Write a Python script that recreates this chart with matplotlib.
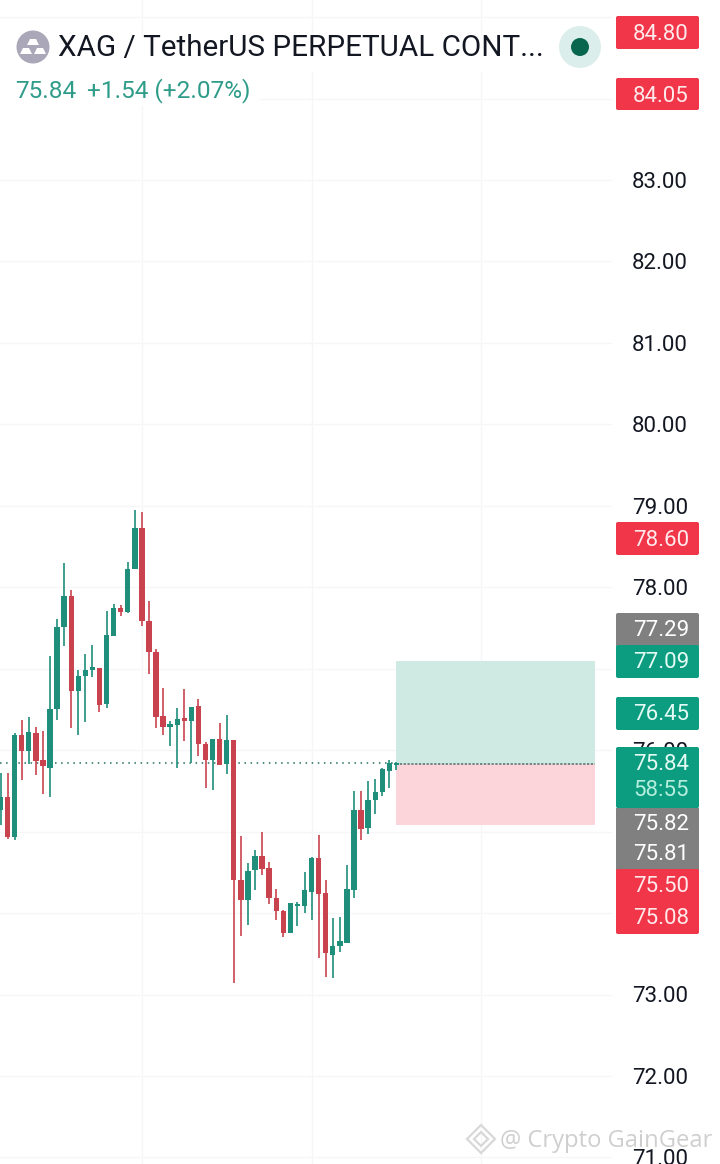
import matplotlib
matplotlib.use("Agg")
import matplotlib.pyplot as plt
from matplotlib.patches import FancyBboxPatch, Circle, Polygon, Rectangle

plt.rcParams['font.family'] = ['Roboto', 'DejaVu Sans']

# ---- data: one entry per candle, prices ----
highs = [75.72,75.72,76.21,76.37,76.41,76.28,76.24,77.15,77.61,78.30,77.97,76.98,77.18,77.29,77.01,77.71,77.79,77.78,78.31,78.95,
         78.93,77.83,77.24,76.76,76.36,76.52,76.75,76.53,76.63,76.10,76.14,76.33,76.43,76.13,74.94,74.61,74.78,74.99,74.63,74.30,
         74.04,74.12,74.14,74.51,74.69,74.96,74.41,73.94,73.95,74.59,75.50,75.50,75.62,75.65,75.78,75.88,75.85]
lows = [75.08,74.91,74.90,75.63,75.83,75.69,75.46,75.43,76.37,77.28,76.27,76.18,76.34,76.90,76.47,76.52,77.40,77.65,77.68,78.22,
        77.53,76.94,76.27,76.18,76.05,75.78,76.11,75.84,75.93,75.54,75.51,75.82,75.71,73.14,73.72,73.85,74.28,74.47,74.11,73.92,
        73.70,73.75,73.84,74.00,73.92,73.45,73.21,73.20,73.52,73.63,74.19,74.90,74.97,75.21,75.44,75.53,75.76]
opens = [75.26,75.42,74.93,76.18,75.99,76.21,75.88,75.78,76.50,77.51,77.89,76.73,76.91,76.98,77.01,76.57,77.40,77.74,77.69,78.22,
         78.73,77.58,77.20,76.42,76.28,76.31,76.39,76.36,76.54,76.07,75.88,76.14,75.83,76.12,74.41,74.16,74.53,74.70,74.55,74.19,
         74.03,73.75,74.09,74.09,74.26,74.67,74.25,73.49,73.59,73.63,74.28,75.26,75.05,75.39,75.49,75.75,75.82]
closes = [75.42,74.93,76.18,75.99,76.22,75.87,75.80,76.50,77.51,77.89,76.73,76.91,76.99,77.02,76.56,77.41,77.74,77.69,78.23,78.73,
          77.59,77.20,76.41,76.28,76.32,76.38,76.36,76.53,76.07,75.88,76.14,75.82,76.12,74.40,74.16,74.52,74.70,74.54,74.18,74.02,
          73.75,74.12,74.11,74.28,74.67,74.24,73.51,73.59,73.66,74.30,75.27,75.03,75.39,75.49,75.77,75.84,75.84]

price_ticks = [71, 72, 73, 74, 75, 76, 77, 78, 79, 80, 81, 82, 83, 84, 85]
# ticks at 74, 75, 77, 84, 85 sit fully behind the price tags, so they carry no visible label
tick_labels = ['71.00','72.00','73.00','','','76.00','','78.00','79.00','80.00','81.00','82.00','83.00','','']
time_ticks = [20, 44, 68]

last_price = 75.84
position_start = 55.93
position_end = 84.1
position_entry = 75.83
position_target = 77.09
position_stop = 75.08

title_text = "XAG / TetherUS PERPETUAL CONT..."
quote_text = ["75.84", "+1.54 (+2.07%)"]
countdown = "58:55"
watermark = "@ Crypto GainGear"

# ---- price labels: text, colour key ----
red_labels = ["84.80", "84.05", "78.60"]
green_labels = ["77.09", "76.45"]
gray_stack_top = "77.29"
stack_gray = ["75.82", "75.81"]
stack_red = ["75.50", "75.08"]

GREEN = '#1f8f7c'
RED = '#c9434f'
L_RED = '#f03648'
L_GREEN = '#0c9c80'
L_GRAY = '#808080'
GRID = '#f5f6f7'
TXT = '#131722'

W, H = 720, 1164
fig = plt.figure(figsize=(W/100, H/100), dpi=100, facecolor='white')

# chart pane
ax = fig.add_axes([0, 0, 612/W, 1])
ax.set_xlim((0-0.5)/7.07, (612-0.5)/7.07)
ax.set_ylim(83-(H-180)/81.45, 83+180/81.45)
for s in ax.spines.values():
    s.set_visible(False)
ax.set_yticks(price_ticks)
ax.set_yticklabels(tick_labels)
ax.yaxis.tick_right()
ax.tick_params(axis='y', length=0, pad=14.4, labelsize=16, labelcolor=TXT)
ax.set_xticks(time_ticks)
ax.tick_params(axis='x', length=0, labelbottom=False)
ax.grid(True, color=GRID, lw=0.9)
ax.set_axisbelow(True)

# position box
ax.add_patch(Rectangle((position_start, position_entry), position_end-position_start,
                       position_target-position_entry, fc='#cfe9e3', ec='none', zorder=1))
ax.add_patch(Rectangle((position_start, position_stop), position_end-position_start,
                       position_entry-position_stop, fc='#fbd5da', ec='none', zorder=1))
ax.hlines(position_entry, position_start, position_end, color='#4f6f68', lw=1.1, ls=(0, (1.5, 1)), zorder=2)

# last price line
ax.axhline(last_price, xmax=position_start/86.5, color='#1f6f60', lw=1.1, ls=(0, (1, 3)), zorder=2)

# candles
for i, (o, h, l, c) in enumerate(zip(opens, highs, lows, closes)):
    col = GREEN if c >= o else RED
    ax.vlines(i, l, h, color=col, lw=1.2, zorder=3)
    ax.bar(i, abs(c-o), bottom=min(o, c), width=0.76, color=col, lw=0, zorder=4)

# overlay in pixel coordinates for the interface furniture
ui = fig.add_axes([0, 0, 1, 1], facecolor='none')
ui.set_xlim(0, W)
ui.set_ylim(H, 0)
ui.axis('off')

ui.add_patch(Rectangle((0, 36), 612, 36, fc='white', ec='none', zorder=1))
ui.add_patch(Rectangle((0, 72), 260, 34, fc='white', ec='none', zorder=1))

# logo
ui.add_patch(Circle((33, 47), 16.5, fc='#aaa8b8', ec='none', zorder=2))
for cx, cy in [(33, 42), (26, 51), (40, 51)]:
    ui.add_patch(Polygon([(cx-6, cy+3), (cx-3, cy-3), (cx+3, cy-3), (cx+6, cy+3)], fc='white', ec='none', zorder=3))
ui.text(58, 48.5, title_text, fontsize=21.3, color=TXT, va='center', ha='left', zorder=3)
ui.text(15, 91, quote_text[0], fontsize=17.6, color='#2f9c8a', va='center', ha='left', zorder=3)
ui.text(87, 91, quote_text[1], fontsize=17.6, color='#2f9c8a', va='center', ha='left', zorder=3)
ui.add_patch(Circle((580, 47), 21, fc='#dceeeb', ec='none', zorder=2))
ui.add_patch(Circle((580, 47), 9, fc='#08664f', ec='none', zorder=3))


def tag(top, bottom, color, z=5):
    ui.add_patch(FancyBboxPatch((616+2, top+2), 83-4, bottom-top-4, boxstyle='round,pad=2',
                                fc=color, ec='none', zorder=z))


def label(y, s, color='white', z=6):
    ui.text(633, y+2, s, fontsize=16, color=color, va='center', ha='left', zorder=z)


tag(16, 49, L_RED); label(33, red_labels[0], '#ffe9eb')
tag(78, 110, L_RED); label(94.5, red_labels[1], '#ffe9eb')
tag(522, 555, L_RED); label(538.5, red_labels[2], '#ffe9eb')
tag(613, 647, L_GRAY); label(629, gray_stack_top)
tag(645, 678, L_GREEN); label(660.5, green_labels[0], '#e3fbf4')
tag(697, 730, L_GREEN); label(713, green_labels[1], '#e3fbf4')
tag(807, 872, L_GRAY)
label(822, stack_gray[0]); label(853, stack_gray[1])
tag(869, 934, L_RED)
label(885, stack_red[0], '#ffe9eb'); label(916, stack_red[1], '#ffe9eb')
tag(747, 808, L_GREEN)
label(763, "75.84", '#e3fbf4'); label(789, countdown, '#b5eedd')

# watermark
ui.text(500, 1141, watermark, fontsize=17.1, color='#cfcfcf', family='Open Sans', va='center', ha='left', zorder=7)
for r, lw in [(14, 1.6), (7, 1.6)]:
    ui.add_patch(Polygon([(481, 1139-r), (481+r, 1139), (481, 1139+r), (481-r, 1139)], fc='none', ec='#d8d8d8', lw=lw, zorder=7))

fig.savefig('out.png', dpi=100, facecolor='white')
